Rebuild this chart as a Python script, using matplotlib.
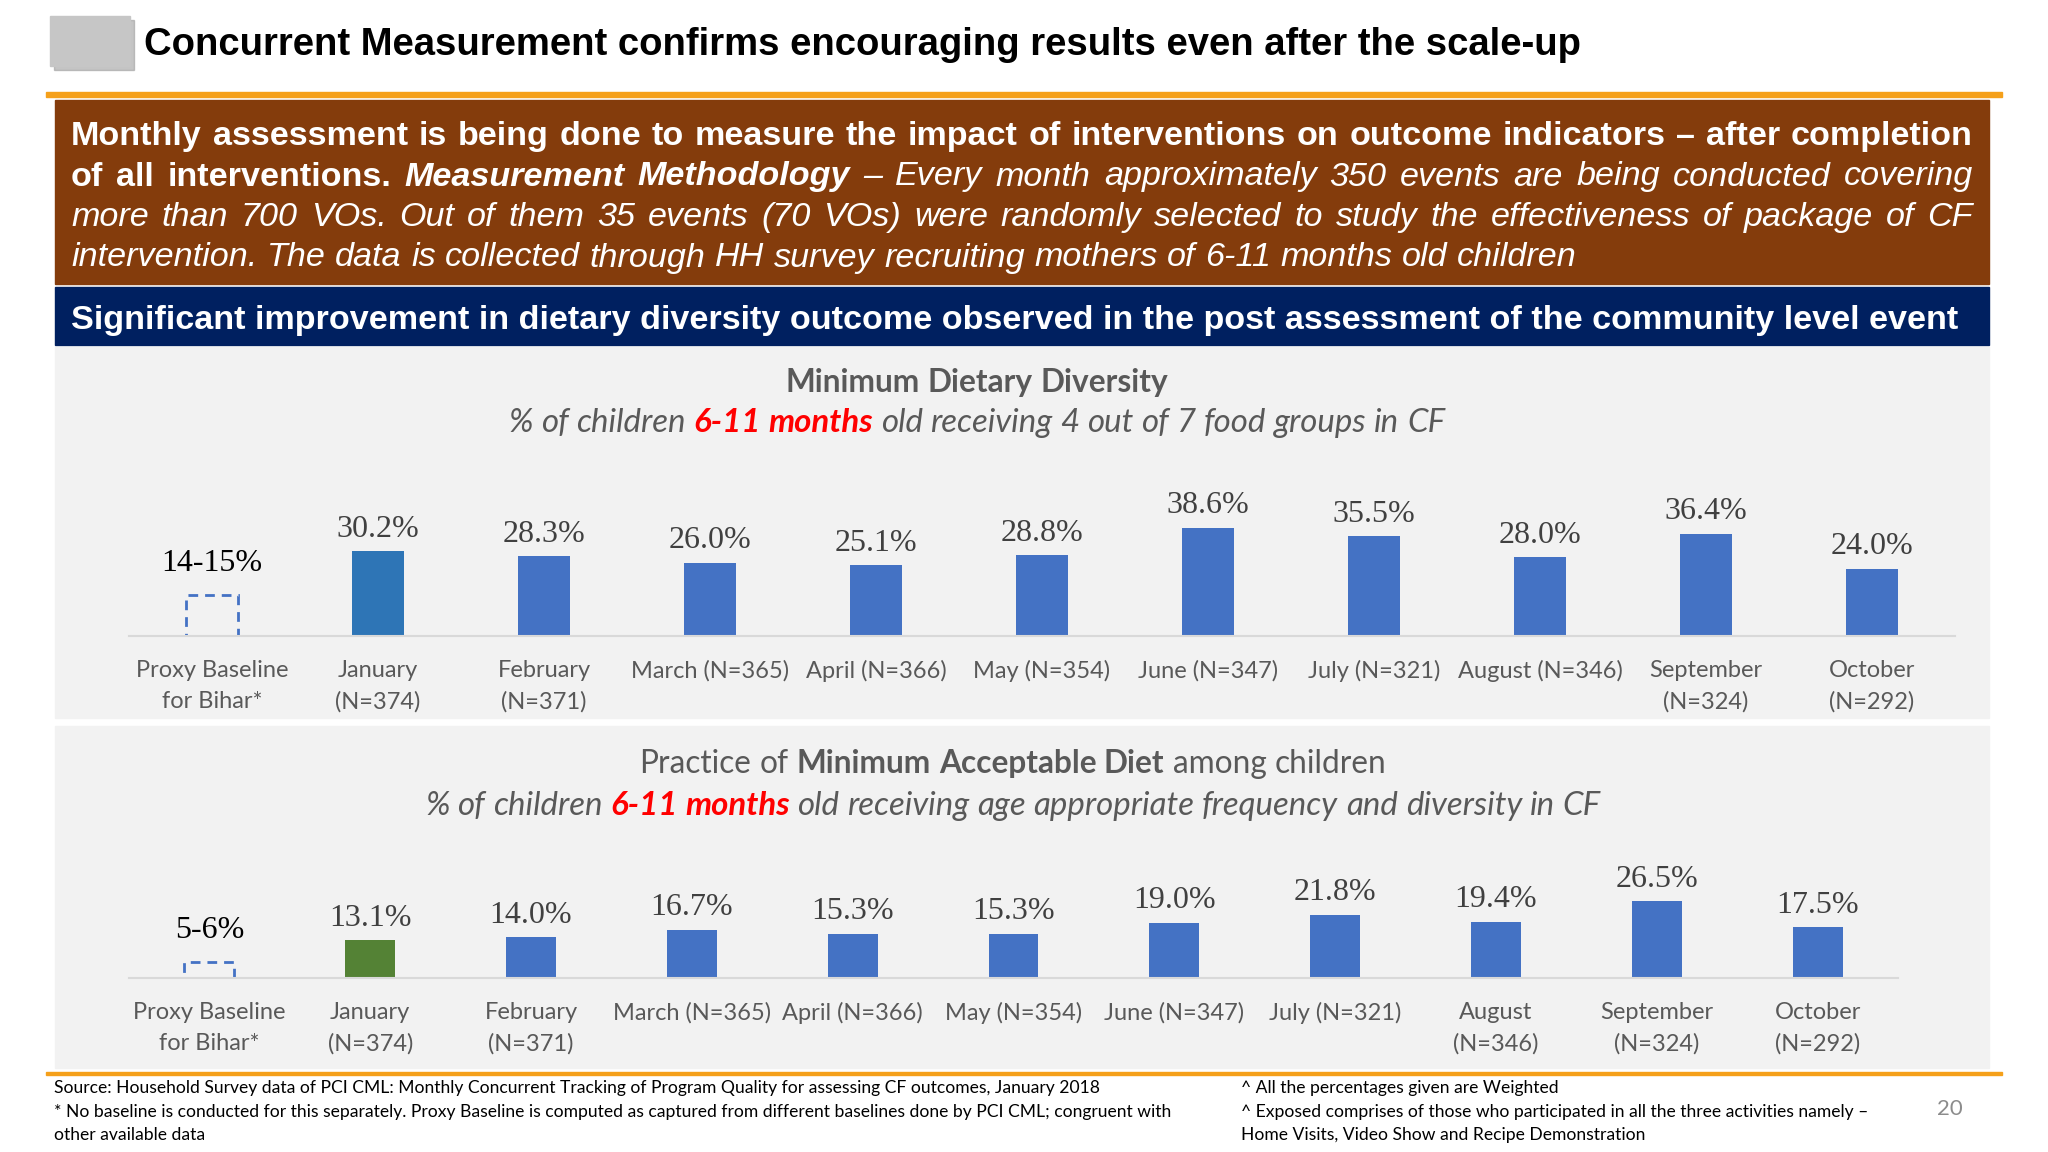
import matplotlib.pyplot as plt
from matplotlib.patches import Rectangle

# ---- data ----
categories_mdd = ["Proxy Baseline\nfor Bihar*", "January\n(N=374)", "February\n(N=371)",
                  "March (N=365)", "April (N=366)", "May (N=354)", "June (N=347)",
                  "July (N=321)", "August (N=346)", "September\n(N=324)", "October\n(N=292)"]
categories_mad = ["Proxy Baseline\nfor Bihar*", "January\n(N=374)", "February\n(N=371)",
                  "March (N=365)", "April (N=366)", "May (N=354)", "June (N=347)",
                  "July (N=321)", "August\n(N=346)", "September\n(N=324)", "October\n(N=292)"]
mdd_values = [30.2, 28.3, 26.0, 25.1, 28.8, 38.6, 35.5, 28.0, 36.4, 24.0]
mad_values = [13.1, 14.0, 16.7, 15.3, 15.3, 19.0, 21.8, 19.4, 26.5, 17.5]
mdd_baseline = 14.5
mad_baseline = 5.5
mdd_baseline_label = "14-15%"
mad_baseline_label = "5-6%"

title = "Concurrent Measurement confirms encouraging results even after the scale-up"
banner = ("Significant improvement in dietary diversity outcome observed in the post "
          "assessment of the community level event")
footnotes_left = ["Source: Household Survey data of PCI CML: Monthly Concurrent Tracking of Program Quality for assessing CF outcomes, January 2018",
                  "* No baseline is conducted for this separately. Proxy Baseline is computed as captured from different baselines done by PCI CML; congruent with",
                  "other available data"]
footnotes_right = ["^ All the percentages given are Weighted",
                   "^ Exposed comprises of those who participated in all the three activities namely \u2013",
                   "Home Visits, Video Show and Recipe Demonstration"]

BLUE = '#4472C4'
GRAY_TXT = '#595959'

W, H = 2048, 1152
fig = plt.figure(figsize=(W / 100, H / 100), dpi=100)
bg = fig.add_axes([0, 0, 1, 1])
bg.set_xlim(0, W)
bg.set_ylim(H, 0)
bg.axis('off')
renderer = fig.canvas.get_renderer()


def measure(s, kw):
    t = bg.text(0, 0, s, **kw)
    w = t.get_window_extent(renderer).width
    t.remove()
    return w


def rich_line(runs, y, x0=None, x1=None, xc=None, justify=False):
    # lay out words of several styled runs on one baseline
    items = []
    for text, kw in runs:
        for i, part in enumerate(text.split(' ')):
            if i > 0:
                items.append((None, kw))
            if part:
                items.append((part, kw))
    widths = [measure('a a', kw) - measure('aa', kw) if w is None else measure(w, kw)
              for w, kw in items]
    total = sum(widths)
    extra = 0
    if justify:
        n = sum(1 for w, _ in items if w is None)
        extra = (x1 - x0 - total) / n
        x = x0
    elif xc is not None:
        x = xc - total / 2
    else:
        x = x0
    for (w, kw), wd in zip(items, widths):
        if w is None:
            x += wd + extra
        else:
            bg.text(x, y, w, ha='left', va='baseline', **kw)
            x += wd


# ---- slide decoration ----
bg.add_patch(Rectangle((54, 20), 80, 50, color='#9E9E9E', alpha=0.6))
bg.add_patch(Rectangle((50, 16), 80, 50, color='#C6C6C6'))
bg.text(144, 55, title, family='Liberation Sans', fontweight='bold', fontsize=27.5,
        color='black', va='baseline')
bg.add_patch(Rectangle((46, 92), 1956, 4.5, color='#F5A01A'))
bg.add_patch(Rectangle((55, 100), 1934, 184, color='#843C0C'))
bg.add_patch(Rectangle((55, 287), 1934, 58, color='#002060'))
bg.add_patch(Rectangle((55, 347), 1934, 371, color='#F2F2F2'))
bg.add_patch(Rectangle((55, 726), 1934, 342, color='#F2F2F2'))
bg.add_patch(Rectangle((46, 1072), 1956, 2.5, color='#F5A01A'))

body = dict(family='Liberation Sans', fontsize=24.6, color='white')
bold = {**body, 'fontweight': 'bold'}
ital = {**body, 'fontstyle': 'italic'}
boldital = {**body, 'fontweight': 'bold', 'fontstyle': 'italic'}

rich_line([("Monthly assessment is being done to measure the impact of interventions on outcome indicators \u2013 after completion", bold)],
          145, x0=71, x1=1973, justify=True)
rich_line([("of all interventions. ", bold), ("Measurement Methodology", boldital),
           (" \u2013 Every month approximately 350 events are being conducted covering", ital)],
          185.5, x0=71, x1=1973, justify=True)
rich_line([("more than 700 VOs. Out of them 35 events (70 VOs) were randomly selected to study the effectiveness of package of CF", ital)],
          226, x0=71, x1=1973, justify=True)
rich_line([("intervention. The data is collected through HH survey recruiting mothers of 6-11 months old children", ital)],
          266.5, x0=71)
bg.text(71, 329, banner, va='baseline', **bold)

# ---- chart titles ----
ctitle = dict(family='Lato', fontsize=22.8, color=GRAY_TXT)
cbold = {**ctitle, 'fontweight': 'bold'}
csub = {**ctitle, 'fontsize': 23.8, 'fontstyle': 'italic'}
cred = {**csub, 'fontweight': 'bold', 'color': '#FF0000'}

rich_line([("Minimum Dietary Diversity", cbold)], 392, xc=977)
rich_line([("% of children ", csub), ("6-11 months", cred),
           (" old receiving 4 out of 7 food groups in CF", csub)], 432, xc=977)
rich_line([("Practice of ", ctitle), ("Minimum Acceptable Diet", cbold), (" among children", ctitle)],
          773, xc=1013)
rich_line([("% of children ", csub), ("6-11 months", cred),
           (" old receiving age appropriate frequency and diversity in CF", csub)], 815, xc=1013)


# ---- bar charts ----
def px_axes(left, top, right, bottom):
    return fig.add_axes([left / W, 1 - bottom / H, (right - left) / W, (bottom - top) / H])


def bar_chart(ax, cats, values, base, base_label, colors, ymax):
    x = list(range(len(cats)))
    ax.bar(x[1:], values, width=0.31, color=colors)
    ax.bar(x[0], base, width=0.31, fill=False, edgecolor=BLUE, linestyle=(0, (3.5, 2.5)),
           linewidth=2)
    for xi, v in zip(x[1:], values):
        ax.annotate(f"{v:.1f}%", (xi, v), xytext=(0, 22), textcoords='offset pixels',
                    ha='center', va='center', family='Liberation Serif', fontsize=23,
                    color='#404040', annotation_clip=False)
    ax.annotate(base_label, (x[0], base), xytext=(0, 32), textcoords='offset pixels',
                ha='center', va='center', family='Liberation Serif', fontsize=23,
                color='black', annotation_clip=False)
    ax.set_xlim(-0.5, len(cats) - 0.5)
    ax.set_ylim(0, ymax)
    ax.set_xticks(x)
    ax.set_xticklabels(cats, family='Lato', fontsize=17, color=GRAY_TXT, linespacing=1.55)
    ax.tick_params(axis='x', length=0, pad=17.5)
    ax.set_yticks([])
    ax.patch.set_alpha(0)
    for s in ['top', 'left', 'right']:
        ax.spines[s].set_visible(False)
    ax.spines['bottom'].set_color('#D9D9D9')
    ax.spines['bottom'].set_linewidth(1.5)


ax1 = px_axes(129, 636 - 45 * 2.81, 1955, 636)
colors1 = ['#2E75B6'] + [BLUE] * 9
bar_chart(ax1, categories_mdd, mdd_values, mdd_baseline, mdd_baseline_label, colors1, 45)

ax2 = px_axes(129, 978 - 30 * 2.9, 1898, 978)
colors2 = ['#548235'] + [BLUE] * 9
bar_chart(ax2, categories_mad, mad_values, mad_baseline, mad_baseline_label, colors2, 30)

# ---- footnotes ----
fn = dict(family='Lato', fontsize=12.6, color='black', va='baseline')
for i, line in enumerate(footnotes_left):
    bg.text(54, 1093 + i * 23.5, line, **fn)
for i, line in enumerate(footnotes_right):
    bg.text(1241, 1093 + i * 23.5, line, **fn)
bg.text(1950, 1109, "20", family='Lato', fontsize=16, color='#8C8C8C', ha='center', va='center')

plt.savefig('out.png', dpi=100)
